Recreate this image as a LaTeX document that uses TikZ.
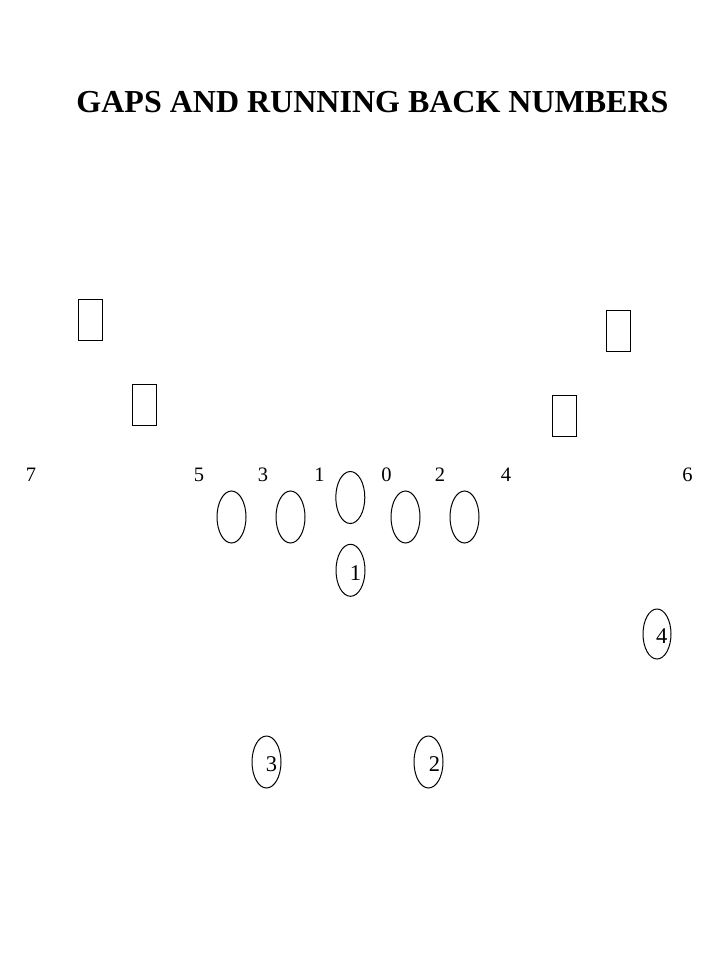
\documentclass[tikz,border=0pt]{standalone}
\usepackage{fontspec}
\setmainfont{Liberation Serif}
\usetikzlibrary{shapes.geometric}
\tikzset{
  player/.style={draw, line width=1pt, ellipse, inner sep=0pt, minimum width=29pt, minimum height=52pt},
  wr/.style={draw, line width=1pt, rectangle, inner sep=0pt, minimum width=24pt, minimum height=41pt},
  gap/.style={font=\fontsize{20.5}{20.5}\selectfont, anchor=base, inner sep=0pt},
  num/.style={font=\fontsize{22.5}{22.5}\selectfont, anchor=base, inner sep=0pt}
}
\begin{document}
\begin{tikzpicture}[x=1pt,y=-1pt]
\useasboundingbox (0,0) rectangle (720,960);
\fill[white] (0,0) rectangle (720,960);
\node[font=\fontsize{32}{32}\selectfont\bfseries, anchor=base, inner sep=0pt] (title) at (372.5,113) {GAPS AND RUNNING BACK NUMBERS};
% receivers
\node[wr] (r1) at (90,319.5) {};
\node[wr] (r2) at (144,405) {};
\node[wr] (r3) at (618,330.5) {};
\node[wr] (r4) at (564,415.5) {};
% gap numbers
\node[gap] (g7) at (31,481) {7};
\node[gap] (g5) at (199,481) {5};
\node[gap] (g3) at (263,481) {3};
\node[gap] (g1) at (319.5,481) {1};
\node[gap] (g0) at (386.5,481) {0};
\node[gap] (g2) at (440,481) {2};
\node[gap] (g4) at (506,481) {4};
\node[gap] (g6) at (687.5,481) {6};
% line
\node[player] (lt) at (231.5,517) {};
\node[player] (lg) at (290.5,517) {};
\node[player] (c) at (350.3,497.5) {};
\node[player] (rg) at (405.5,517) {};
\node[player] (rt) at (464.5,517) {};
% backs
\node[player] (b1) at (350.5,570.3) {};
\node[num] (n1) at (355.5,580.5) {1};
\node[player, minimum width=28pt, minimum height=50pt] (b4) at (657,634) {};
\node[num] (n4) at (661.7,643.5) {4};
\node[player] (b3) at (266.5,762) {};
\node[num] (n3) at (271.5,771) {3};
\node[player] (b2) at (428.5,762) {};
\node[num] (n2) at (434.5,771) {2};
\end{tikzpicture}
\end{document}
